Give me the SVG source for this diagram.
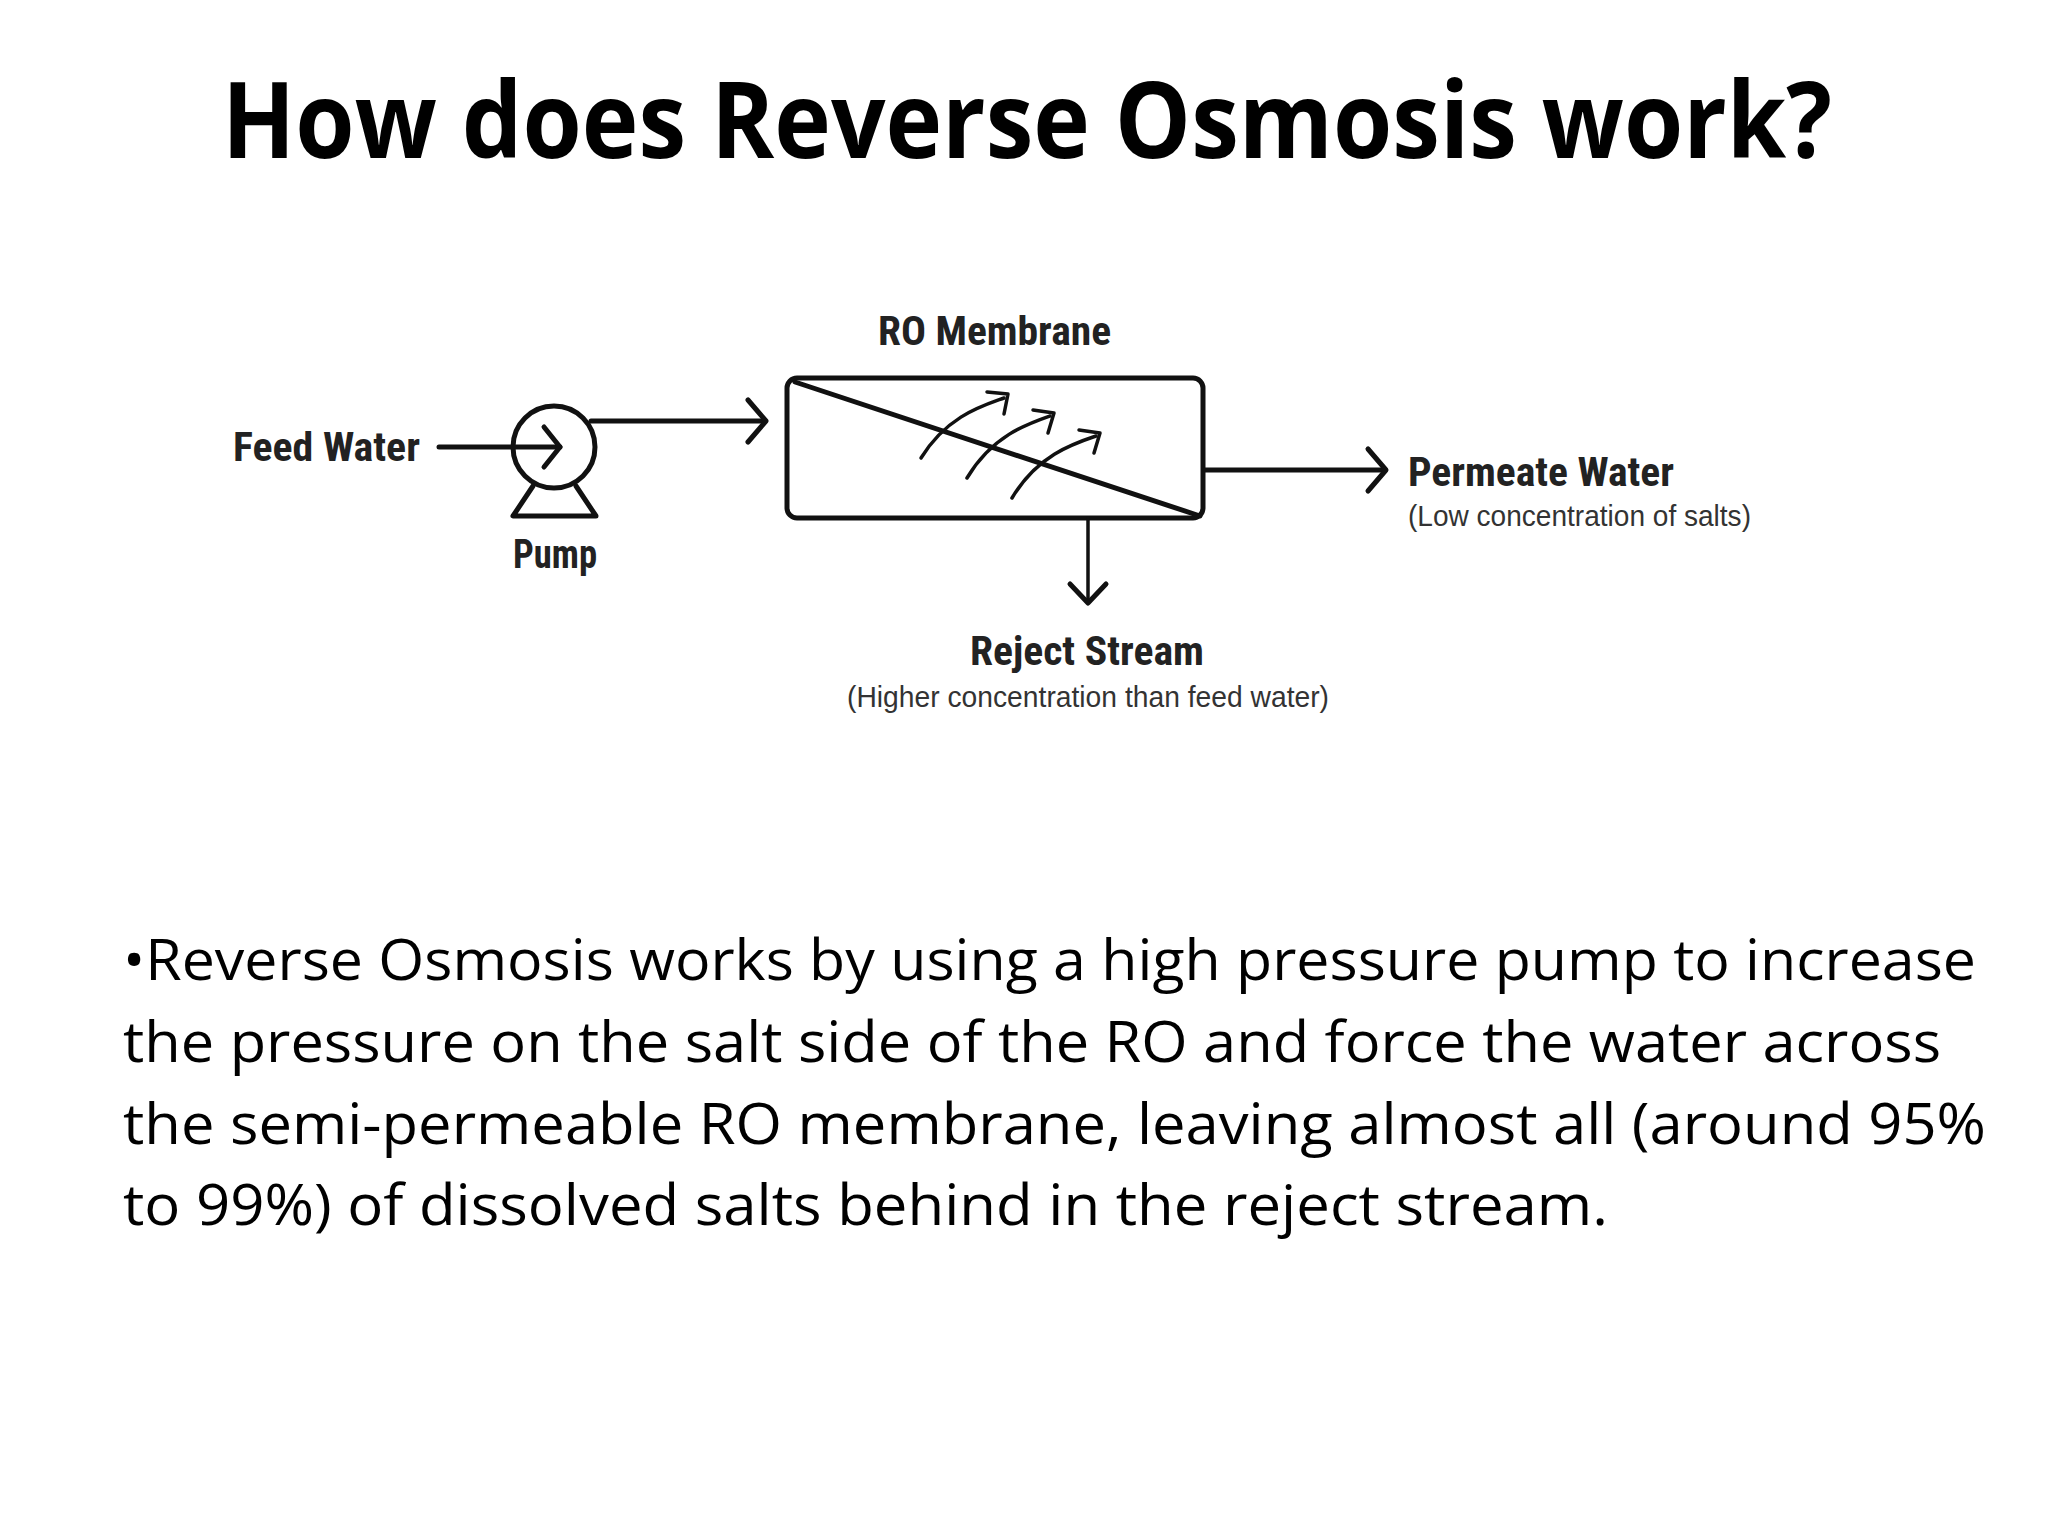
<svg xmlns="http://www.w3.org/2000/svg" width="2048" height="1536" viewBox="0 0 2048 1536">
<style>
.lbl{font-family:"Liberation Sans Narrow","Roboto Condensed","Liberation Sans",sans-serif;font-weight:bold;font-size:40px;fill:#222}
.sub{font-family:"Liberation Sans",sans-serif;font-size:29px;fill:#333}
.body{font-family:"Open Sans","Liberation Sans",sans-serif;font-size:56px;fill:#000}
.ln{stroke:#111;stroke-width:5;fill:none;stroke-linecap:round;stroke-linejoin:round}
.thin{stroke:#111;stroke-width:3.5;fill:none;stroke-linecap:round;stroke-linejoin:round}
</style>
<rect width="2048" height="1536" fill="#fff"/>
<text x="1027" y="158" text-anchor="middle" font-family="Open Sans, Liberation Sans, sans-serif" font-weight="bold" font-size="106" textLength="1610" lengthAdjust="spacingAndGlyphs">How does Reverse Osmosis work?</text>
<g transform="translate(-8,-4)">
<g id="membrane">
<rect x="795" y="382" width="416" height="140" rx="10" class="ln"/>
<line x1="803" y1="386" x2="1208" y2="520" class="ln"/>
<path d="M929 462 C955 420 990 410 1012 402" class="thin"/>
<path d="M995 396 L1016 398 L1012 418" class="thin"/>
<path d="M975 482 C1000 440 1035 428 1058 420" class="thin"/>
<path d="M1041 414 L1062 417 L1056 437" class="thin"/>
<path d="M1020 502 C1045 460 1080 448 1104 440" class="thin"/>
<path d="M1087 434 L1108 437 L1102 457" class="thin"/>
<text x="886" y="349" class="lbl" textLength="233" lengthAdjust="spacingAndGlyphs">RO Membrane</text>
</g>
<g id="pump">
<circle cx="562" cy="451" r="41" class="ln"/>
<path d="M541 490 L521 520 L604 520 L584 490" class="ln"/>
<text x="521" y="572" class="lbl" textLength="84" lengthAdjust="spacingAndGlyphs">Pump</text>
</g>
<g id="feed"><text x="241" y="465" class="lbl" textLength="187" lengthAdjust="spacingAndGlyphs">Feed Water</text></g>
<g id="permeate">
<text x="1416" y="490" class="lbl" textLength="266" lengthAdjust="spacingAndGlyphs">Permeate Water</text>
<text x="1416" y="530" class="sub" textLength="343" lengthAdjust="spacingAndGlyphs">(Low concentration of salts)</text>
</g>
<g id="reject">
<text x="978" y="669" class="lbl" textLength="234" lengthAdjust="spacingAndGlyphs">Reject Stream</text>
<text x="855" y="711" class="sub" textLength="482" lengthAdjust="spacingAndGlyphs">(Higher concentration than feed water)</text>
</g>
<g id="connectors">
<line x1="447" y1="451" x2="568" y2="451" class="ln"/>
<path d="M552 431 L568 451 L552 471" class="ln"/>
<line x1="599" y1="425" x2="772" y2="425" class="ln"/>
<path d="M756 404 L774 425 L756 446" class="ln"/>
<line x1="1213" y1="474" x2="1392" y2="474" class="ln"/>
<path d="M1376 453 L1394 474 L1376 495" class="ln"/>
<line x1="1096" y1="522" x2="1096" y2="603" class="thin"/>
<path d="M1078 588 L1096 607 L1114 588" class="ln"/>
</g>
</g>
<g id="bodytext" class="body">
<text x="123" y="980" textLength="1853" lengthAdjust="spacingAndGlyphs">•Reverse Osmosis works by using a high pressure pump to increase</text>
<text x="123" y="1062" textLength="1818" lengthAdjust="spacingAndGlyphs">the pressure on the salt side of the RO and force the water across</text>
<text x="123" y="1144" textLength="1863" lengthAdjust="spacingAndGlyphs">the semi-permeable RO membrane, leaving almost all (around 95%</text>
<text x="123" y="1225" textLength="1485" lengthAdjust="spacingAndGlyphs">to 99%) of dissolved salts behind in the reject stream.</text>
</g>
</svg>
